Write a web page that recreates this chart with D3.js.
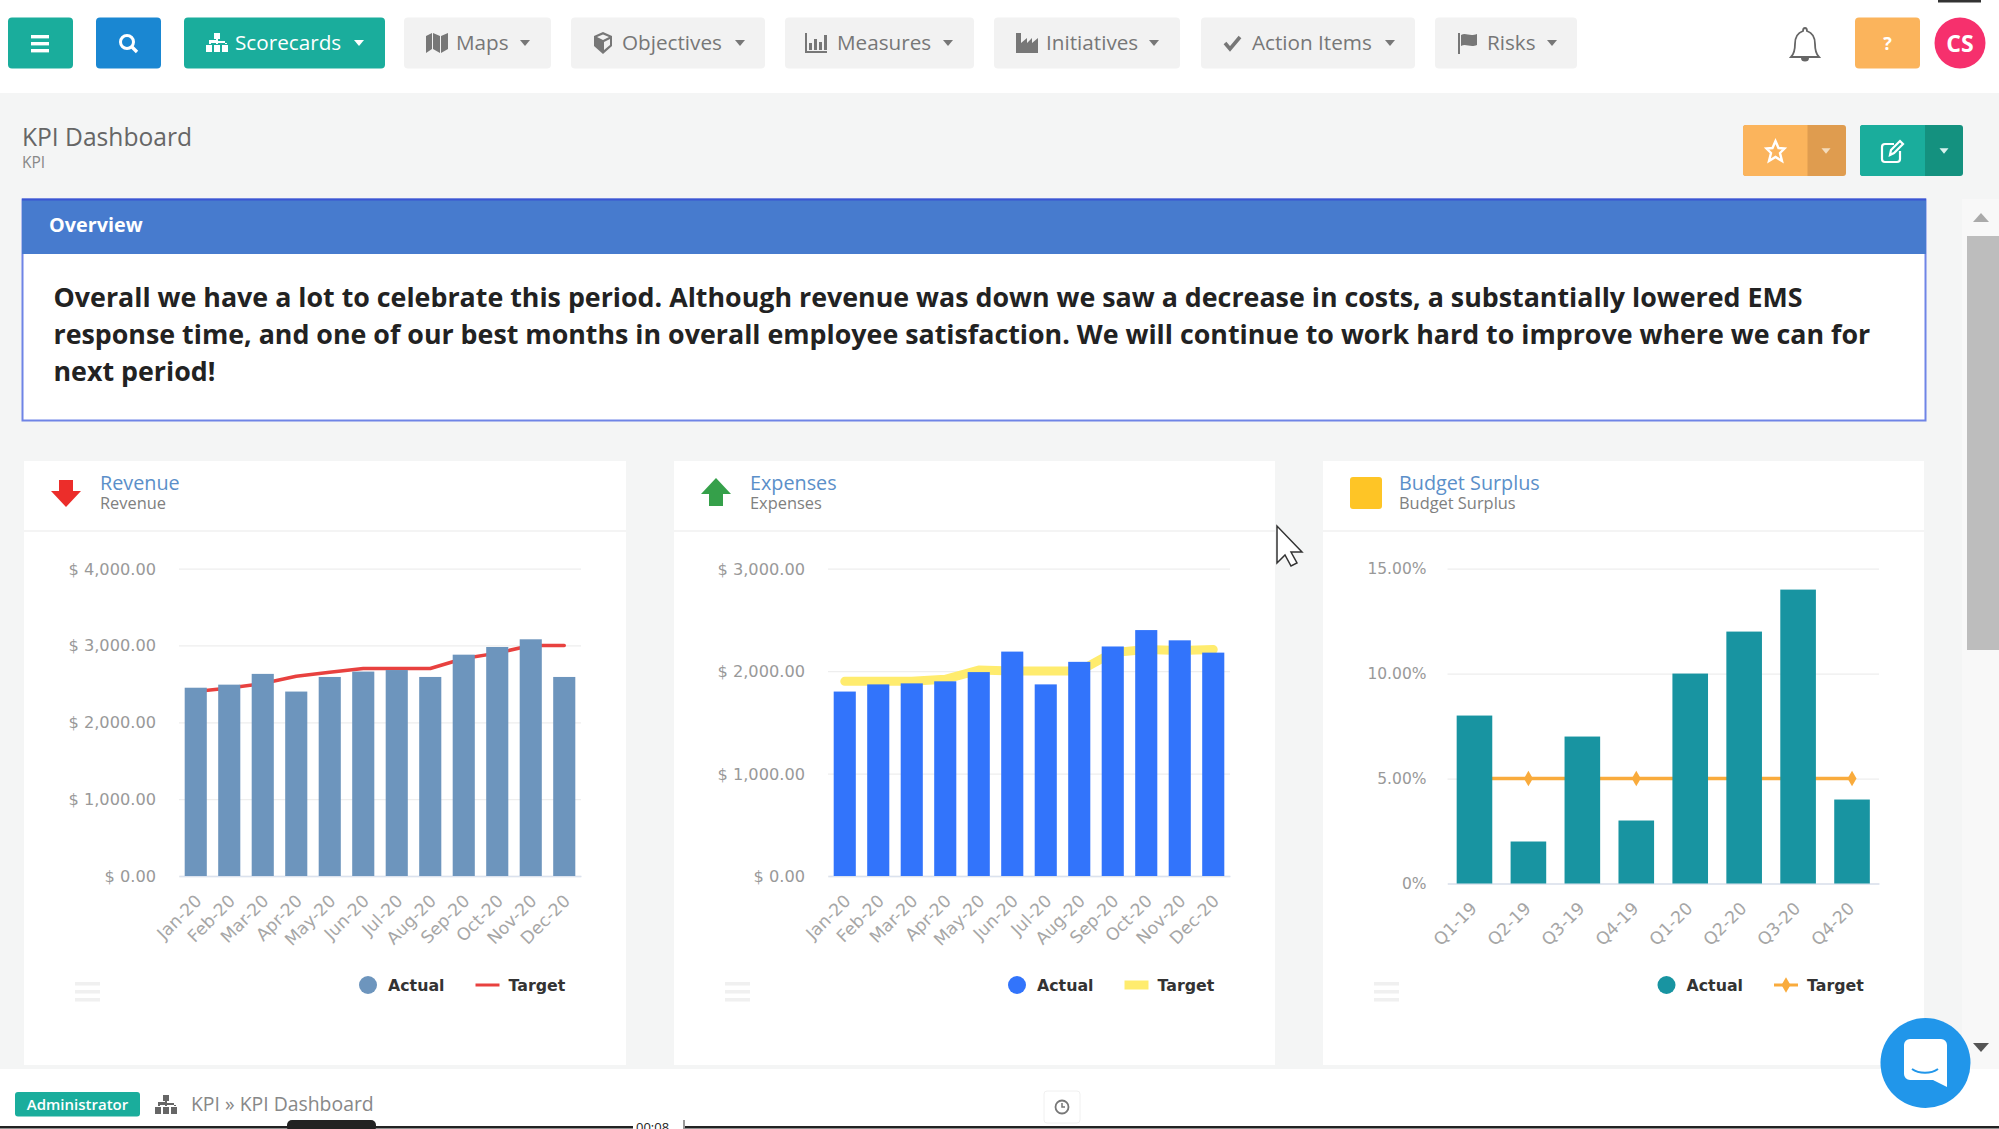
<!DOCTYPE html>
<html>
<head>
<meta charset="utf-8">
<title>KPI Dashboard</title>
<script src="https://cdnjs.cloudflare.com/ajax/libs/d3/7.8.5/d3.min.js"></script>
<style>
  html, body { margin: 0; padding: 0; background: #fff; overflow: hidden; }
  text { font-family: "Open Sans", sans-serif; }
  .chart text { font-family: "DejaVu Sans", sans-serif; }
</style>
</head>
<body>
<div id="canvas"></div>
<script>
// chart data
const months = ['Jan-20', 'Feb-20', 'Mar-20', 'Apr-20', 'May-20', 'Jun-20', 'Jul-20', 'Aug-20', 'Sep-20', 'Oct-20', 'Nov-20', 'Dec-20']
const quarters = ['Q1-19', 'Q2-19', 'Q3-19', 'Q4-19', 'Q1-20', 'Q2-20', 'Q3-20', 'Q4-20']

const revenueActual = [2450, 2490, 2630, 2400, 2590, 2660, 2680, 2590, 2880, 2980, 3080, 2590]
const revenueTarget = [2400, 2445, 2505, 2600, 2650, 2700, 2700, 2700, 2830, 2900, 3000, 3000]
const revenueTicks = [0, 1000, 2000, 3000, 4000]

const expensesActual = [1800, 1870, 1880, 1900, 1990, 2190, 1870, 2090, 2240, 2400, 2300, 2180]
const expensesTarget = [1900, 1900, 1900, 1920, 2010, 2000, 2000, 2000, 2180, 2210, 2200, 2210]
const expensesTicks = [0, 1000, 2000, 3000]

const surplusActual = [8, 2, 7, 3, 10, 12, 14, 4]
const surplusTarget = [5, 5, 5, 5, 5, 5, 5, 5]
const surplusTicks = [0, 5, 10, 15]

const overviewLines = [
  'Overall we have a lot to celebrate this period. Although revenue was down we saw a decrease in costs, a substantially lowered EMS',
  'response time, and one of our best months in overall employee satisfaction. We will continue to work hard to improve where we can for',
  'next period!'
]

const money = d => '$ ' + d3.format(',.2f')(d)
const percent = d => d === 0 ? '0%' : d3.format('.2f')(d) + '%'

const svg = d3.select('#canvas').append('svg')
  .attr('width', 1999)
  .attr('height', 1129)
  .style('display', 'block')

svg.append('rect').attr('width', 1999).attr('height', 1129).attr('fill', '#fff')
svg.append('rect').attr('y', 93).attr('width', 1999).attr('height', 978).attr('fill', '#f4f5f5')

// top navigation
const navIcons = {
  hamburger: g => {
    [-8, -1, 6].forEach(y => g.append('rect').attr('x', -9).attr('y', y).attr('width', 18).attr('height', 3.4).attr('fill', '#fff'))
  },
  search: g => {
    g.append('circle').attr('cx', -1).attr('cy', -1).attr('r', 6.5).attr('fill', 'none').attr('stroke', '#fff').attr('stroke-width', 3)
    g.append('line').attr('x1', 4).attr('y1', 4).attr('x2', 9).attr('y2', 9).attr('stroke', '#fff').attr('stroke-width', 3.4)
  },
  tree: (g, c) => {
    g.append('path').attr('fill', c).attr('d', 'M-3-10h6v6h-6zM-1-5h2v3h7v3h2v-1h-2-7v1h-2v-1h-5v1h-2v-4h7zM-11 2h6v7h-6zM-3 2h6v7h-6zM5 2h6v7h-6z')
  },
  map: (g, c) => {
    g.append('path').attr('fill', c).attr('d', 'M-11-7l6-3v16l-6 4zM-4-10l7 3v17l-7-4zM4-7l7-3v16l-7 4z')
  },
  cube: (g, c) => {
    g.append('path').attr('fill', c).attr('d', 'M0-11l9 4v10l-9 8-9-8v-10zM-6-6l6 3 6-3-6-2.5zM1-1v8l6-5v-6z')
  },
  bars: (g, c) => {
    g.append('path').attr('fill', c).attr('d', 'M-12-10h2v18h20v2h-22zM-8 0h3v7h-3zM-3-4h3v11h-3zM2-1h3v8h-3zM7-8h3v15h-3z')
  },
  factory: (g, c) => {
    g.append('path').attr('fill', c).attr('d', 'M-11-10h5v10l6-5v5l5-5v5l6-5v15h-22z')
  },
  check: (g, c) => {
    g.append('path').attr('fill', 'none').attr('stroke', c).attr('stroke-width', 3.6).attr('d', 'M-8 0l5 6 10-12')
  },
  flag: (g, c) => {
    g.append('path').attr('fill', c).attr('d', 'M-10-10h2v21h-2zM-7-8c5-3 8 2 16-1v11c-7 3-11-2-16 1z')
  }
}

const navSolid = [
  { x0: 8, x1: 73, fill: '#1aad9c', icon: 'hamburger', ix: 40 },
  { x0: 96, x1: 161, fill: '#1a87d2', icon: 'search', ix: 128 }
]
const navMenus = [
  { label: 'Scorecards', x0: 184, x1: 385, icon: 'tree', ix: 217, tx: 235, cx: 359, active: true },
  { label: 'Maps', x0: 404, x1: 551, icon: 'map', ix: 437, tx: 456, cx: 525 },
  { label: 'Objectives', x0: 571, x1: 765, icon: 'cube', ix: 603, tx: 622, cx: 740 },
  { label: 'Measures', x0: 785, x1: 974, icon: 'bars', ix: 817, tx: 837, cx: 948 },
  { label: 'Initiatives', x0: 994, x1: 1180, icon: 'factory', ix: 1027, tx: 1046, cx: 1154 },
  { label: 'Action Items', x0: 1201, x1: 1415, icon: 'check', ix: 1233, tx: 1252, cx: 1390 },
  { label: 'Risks', x0: 1435, x1: 1577, icon: 'flag', ix: 1468, tx: 1487, cx: 1552 }
]

navSolid.forEach(b => {
  svg.append('rect').attr('x', b.x0).attr('y', 17.5).attr('width', b.x1 - b.x0).attr('height', 51).attr('rx', 4).attr('fill', b.fill)
  navIcons[b.icon](svg.append('g').attr('transform', `translate(${b.ix},43)`))
})

const caret = (x, y, color, size = 5) => svg.append('path')
  .attr('transform', `translate(${x},${y})`)
  .attr('d', `M${-size}${-size * 0.6}h${size * 2}l${-size} ${size * 1.2}z`)
  .attr('fill', color)

navMenus.forEach(m => {
  const fg = m.active ? '#fff' : '#777'
  svg.append('rect').attr('x', m.x0).attr('y', 17.5).attr('width', m.x1 - m.x0).attr('height', 51).attr('rx', 4).attr('fill', m.active ? '#1aad9c' : '#f2f2f2')
  navIcons[m.icon](svg.append('g').attr('transform', `translate(${m.ix},43)`), fg)
  svg.append('text').attr('x', m.tx).attr('y', 50).attr('font-size', 20.7).attr('fill', fg).text(m.label)
  caret(m.cx, 43, fg)
})

// bell, help, avatar
svg.append('path')
  .attr('d', 'M1805 28c-1 0-2 1-2 3-6 2-8 7-8 13 0 6-1 10-4 13h28c-3-3-4-7-4-13 0-6-2-11-8-13 0-2-1-3-2-3z')
  .attr('fill', '#fff').attr('stroke', '#666').attr('stroke-width', 1.8)
svg.append('path').attr('d', 'M1801 58a4 3.5 0 0 0 8 0z').attr('fill', '#666')
svg.append('rect').attr('x', 1855).attr('y', 17.5).attr('width', 65).attr('height', 51).attr('rx', 4).attr('fill', '#fbb45c')
svg.append('text').attr('x', 1887.5).attr('y', 50).attr('text-anchor', 'middle').attr('font-size', 18).attr('font-weight', 700).attr('fill', '#fff').text('?')
svg.append('circle').attr('cx', 1960).attr('cy', 43).attr('r', 25.5).attr('fill', '#f6306d')
svg.append('text').attr('x', 1960).attr('y', 51.5).attr('text-anchor', 'middle').attr('font-size', 23).attr('font-weight', 700).attr('fill', '#fff').text('CS')
svg.append('rect').attr('x', 1938).attr('width', 43).attr('height', 2.5).attr('fill', '#333')

// page title
svg.append('text').attr('x', 22).attr('y', 146).attr('font-size', 24.6).attr('fill', '#666').text('KPI Dashboard')
svg.append('text').attr('x', 22).attr('y', 168).attr('font-size', 15.5).attr('fill', '#888').text('KPI')

// split buttons on the right
const splitButton = (x0, x1, x2, light, dark) => {
  svg.append('rect').attr('x', x0).attr('y', 125).attr('width', x2 - x0).attr('height', 51).attr('rx', 3).attr('fill', dark)
  svg.append('path').attr('d', `M${x0 + 3} 125H${x1}V176H${x0 + 3}a3 3 0 0 1-3-3V128a3 3 0 0 1 3-3z`).attr('fill', light)
}
splitButton(1743, 1807.5, 1846, '#fbb45c', '#df9c4f')
splitButton(1860, 1925, 1963, '#1aad9c', '#14917f')
svg.append('path')
  .attr('d', 'M1775.5 141l3 7 6 .5-4.5 4.5 2 8-6.5-4-6.5 4 2-8-4.5-4.5 6-.5z')
  .attr('fill', 'none').attr('stroke', '#fff').attr('stroke-width', 2.4)
svg.append('path')
  .attr('d', 'M1894 144h-9a3 3 0 0 0-3 3v12a3 3 0 0 0 3 3h12a3 3 0 0 0 3-3v-8M1890 155l1-5 9-9 3 3-9 9z')
  .attr('fill', 'none').attr('stroke', '#fff').attr('stroke-width', 2.2)
caret(1826, 151, '#f4dcbc', 4.5)
caret(1944, 151, '#d8f2ee', 4.5)

// overview panel
svg.append('rect').attr('x', 22.5).attr('y', 199.5).attr('width', 1903).attr('height', 221).attr('fill', '#fff').attr('stroke', '#6f84e6').attr('stroke-width', 2)
svg.append('rect').attr('x', 22).attr('y', 199).attr('width', 1904).attr('height', 55).attr('fill', '#477bce')
svg.append('rect').attr('x', 22).attr('y', 198.5).attr('width', 1904).attr('height', 2).attr('fill', '#3a55d2')
svg.append('text').attr('x', 49).attr('y', 232).attr('font-size', 19.8).attr('font-weight', 700).attr('fill', '#fff').text('Overview')
svg.selectAll('.overview-line').data(overviewLines).enter().append('text')
  .attr('class', 'overview-line')
  .attr('x', 53.5)
  .attr('y', (d, i) => 306.5 + i * 37.2)
  .attr('font-size', 26.8)
  .attr('font-weight', 700)
  .attr('fill', '#222')
  .text(d => d)

// one KPI card: header, bars, target line, axes, legend
function drawCard(opts) {
  const card = svg.append('g')
  card.append('rect').attr('x', opts.cardX).attr('y', 461).attr('width', opts.cardW).attr('height', 604).attr('fill', '#fff')
  card.append('line').attr('x1', opts.cardX).attr('x2', opts.cardX + opts.cardW).attr('y1', 531).attr('y2', 531).attr('stroke', '#f1f1f1').attr('stroke-width', 1.5)

  card.append('path').attr('d', opts.iconPath).attr('fill', opts.iconColor)
  card.append('text').attr('x', opts.titleX).attr('y', 490).attr('font-size', 19.8).attr('font-weight', 500).attr('fill', '#5b8fc9').text(opts.title)
  card.append('text').attr('x', opts.titleX).attr('y', 509).attr('font-size', 16.4).attr('fill', '#808080').text(opts.title)

  const chart = card.append('g').attr('class', 'chart')
  const xScale = d3.scaleBand()
    .domain(opts.categories)
    .range([opts.plotX0, opts.plotX1])
    .paddingInner(0.34)
    .paddingOuter(0.17)
  const yScale = d3.scaleLinear()
    .domain(opts.domain)
    .range([opts.baseY, 568.6])
  const center = c => xScale(c) + xScale.bandwidth() / 2

  const yAxis = chart.append('g')
    .attr('transform', `translate(${opts.plotX0},0)`)
    .call(d3.axisLeft(yScale).tickValues(opts.ticks).tickFormat(opts.format).tickSize(-(opts.plotX1 - opts.plotX0)).tickPadding(opts.tickPadding))
  yAxis.select('.domain').remove()
  yAxis.selectAll('.tick line').attr('stroke', '#eeeeee').attr('stroke-width', 1.3)
  yAxis.selectAll('text').attr('fill', '#999').attr('font-size', opts.tickFont).attr('dy', '0.34em').style('font-family', '"DejaVu Sans", sans-serif')

  const xAxis = chart.append('g')
    .attr('transform', `translate(0,${opts.baseY})`)
    .call(d3.axisBottom(xScale).tickSize(0))
  xAxis.select('.domain').attr('stroke', '#dbe2ee').attr('stroke-width', 1.5)
  xAxis.selectAll('text')
    .attr('fill', '#a6a6a6')
    .attr('font-size', 17.2)
    .style('font-family', '"DejaVu Sans", sans-serif')
    .attr('text-anchor', 'end')
    .attr('y', 0)
    .attr('dy', 0)
    .attr('transform', `translate(${opts.labelDx},26) rotate(-45)`)

  const targetLine = d3.line().x((d, i) => center(opts.categories[i])).y(d => yScale(d))
  chart.append('path')
    .datum(opts.target)
    .attr('d', targetLine)
    .attr('fill', 'none')
    .attr('stroke', opts.targetColor)
    .attr('stroke-width', opts.targetWidth)
    .attr('stroke-linejoin', 'round')
    .attr('stroke-linecap', 'round')

  if (opts.markers) {
    chart.selectAll('.target-marker').data(opts.target).enter().append('path')
      .attr('class', 'target-marker')
      .attr('transform', (d, i) => `translate(${center(opts.categories[i])},${yScale(d)})`)
      .attr('d', d3.symbol(d3.symbolDiamond, 70))
      .attr('fill', opts.targetColor)
  }

  chart.selectAll('.bar').data(opts.actual).enter().append('rect')
    .attr('class', 'bar')
    .attr('x', (d, i) => xScale(opts.categories[i]))
    .attr('y', d => yScale(d))
    .attr('width', xScale.bandwidth())
    .attr('height', d => opts.baseY - yScale(d))
    .attr('fill', opts.barColor)

  // legend
  const legendY = 985
  chart.append('circle').attr('cx', opts.legendX).attr('cy', legendY).attr('r', 9).attr('fill', opts.barColor)
  chart.append('text').attr('x', opts.legendX + 20).attr('y', legendY + 6).attr('font-size', 15.8).attr('font-weight', 700).attr('fill', '#333').text('Actual')
  chart.append('line').attr('x1', opts.legendLineX).attr('x2', opts.legendLineX + 24).attr('y1', legendY).attr('y2', legendY)
    .attr('stroke', opts.targetColor).attr('stroke-width', opts.legendWidth)
  if (opts.markers) {
    chart.append('path').attr('transform', `translate(${opts.legendLineX + 12},${legendY})`).attr('d', d3.symbol(d3.symbolDiamond, 70)).attr('fill', opts.targetColor)
  }
  chart.append('text').attr('x', opts.legendLineX + 33).attr('y', legendY + 6).attr('font-size', 15.8).attr('font-weight', 700).attr('fill', '#333').text('Target')

  // export menu icon
  ;[982, 990, 998].forEach(y => {
    card.append('rect').attr('x', opts.cardX + 51).attr('y', y).attr('width', 25).attr('height', 3.5).attr('fill', '#f0f0f0')
  })
}

drawCard({
  title: 'Revenue', cardX: 24, cardW: 602, titleX: 100,
  iconPath: 'M59 480h14v11h8l-15 16-15-16h8z', iconColor: '#ec2d2a',
  categories: months, actual: revenueActual, target: revenueTarget, domain: [0, 4000], ticks: revenueTicks, format: money,
  plotX0: 179, plotX1: 581, baseY: 876, labelDx: 7, tickFont: 16.2, tickPadding: 23,
  barColor: '#6d95bd', targetColor: '#e8413f', targetWidth: 3.5, legendWidth: 3, legendX: 368, legendLineX: 475.5
})
drawCard({
  title: 'Expenses', cardX: 674, cardW: 601, titleX: 750,
  iconPath: 'M716 478l15 16h-8v12h-14v-12h-8z', iconColor: '#35a04a',
  categories: months, actual: expensesActual, target: expensesTarget, domain: [0, 3000], ticks: expensesTicks, format: money,
  plotX0: 828, plotX1: 1230, baseY: 876, labelDx: 7, tickFont: 16.2, tickPadding: 23,
  barColor: '#3274fb', targetColor: '#ffec6e', targetWidth: 9, legendWidth: 9, legendX: 1017, legendLineX: 1124.5
})
drawCard({
  title: 'Budget Surplus', cardX: 1323, cardW: 601, titleX: 1399,
  iconPath: 'M1353 477h26a3 3 0 0 1 3 3v26a3 3 0 0 1-3 3h-26a3 3 0 0 1-3-3v-26a3 3 0 0 1 3-3z', iconColor: '#fec526',
  categories: quarters, actual: surplusActual, target: surplusTarget, domain: [0, 15], ticks: surplusTicks, format: percent,
  plotX0: 1447.5, plotX1: 1879, baseY: 883.5, labelDx: 3.5, tickFont: 15.5, tickPadding: 21,
  barColor: '#1894a1', targetColor: '#f9ab3c', targetWidth: 3.5, legendWidth: 3, legendX: 1666.5, legendLineX: 1774, markers: true
})

// scrollbar
svg.append('rect').attr('x', 1962).attr('y', 199).attr('width', 37).attr('height', 872).attr('fill', '#f8f8f8')
svg.append('rect').attr('x', 1967).attr('y', 236).attr('width', 32).attr('height', 414).attr('fill', '#bdbdbd')
svg.append('path').attr('d', 'M1981 213l8 9h-16z').attr('fill', '#aaa')
svg.append('path').attr('d', 'M1973 1043h16l-8 9z').attr('fill', '#555')

// footer
svg.append('rect').attr('y', 1069).attr('width', 1999).attr('height', 60).attr('fill', '#fff')
svg.append('rect').attr('x', 15).attr('y', 1092).attr('width', 125).attr('height', 24.5).attr('rx', 3).attr('fill', '#1aad9c')
svg.append('text').attr('x', 77.5).attr('y', 1110).attr('text-anchor', 'middle').attr('font-size', 15).attr('font-weight', 600).attr('fill', '#fff').text('Administrator')
navIcons.tree(svg.append('g').attr('transform', 'translate(166,1105)'), '#666')
svg.append('text').attr('x', 191).attr('y', 1111).attr('font-size', 19.4).attr('fill', '#888').text('KPI » KPI Dashboard')
svg.append('rect').attr('x', 1044).attr('y', 1091).attr('width', 36).attr('height', 32).attr('rx', 3).attr('fill', '#fff').attr('stroke', '#f0f0f0')
svg.append('circle').attr('cx', 1062).attr('cy', 1107).attr('r', 6.5).attr('fill', 'none').attr('stroke', '#777').attr('stroke-width', 1.8)
svg.append('path').attr('d', 'M1062 1103v4h3').attr('fill', 'none').attr('stroke', '#777').attr('stroke-width', 1.5)

// video player remains along the bottom edge
svg.append('rect').attr('y', 1126).attr('width', 633).attr('height', 2.5).attr('fill', '#222')
svg.append('rect').attr('x', 685).attr('y', 1126).attr('width', 1314).attr('height', 2.5).attr('fill', '#222')
svg.append('rect').attr('x', 287).attr('y', 1120).attr('width', 89).attr('height', 12).attr('rx', 5).attr('fill', '#222')
svg.append('text').attr('x', 636).attr('y', 1132).attr('font-size', 13).attr('fill', '#222').text('00:08')
svg.append('line').attr('x1', 684).attr('x2', 684).attr('y1', 1120).attr('y2', 1129).attr('stroke', '#333')

// chat bubble
svg.append('circle').attr('cx', 1925.5).attr('cy', 1063).attr('r', 45).attr('fill', '#2196ea')
svg.append('path')
  .attr('d', 'M1910 1039h31a6 6 0 0 1 6 6v42l-14-7h-23a6 6 0 0 1-6-6v-29a6 6 0 0 1 6-6z')
  .attr('fill', '#fff')
svg.append('path').attr('d', 'M1912 1069c7 5 19 5 26 0').attr('fill', 'none').attr('stroke', '#2196ea').attr('stroke-width', 2)

// mouse pointer
svg.append('path')
  .attr('d', 'M1277 526v37l8-8 6 11 6-3-6-11h11z')
  .attr('fill', '#fff').attr('stroke', '#333').attr('stroke-width', 1.5)
</script>
</body>
</html>
